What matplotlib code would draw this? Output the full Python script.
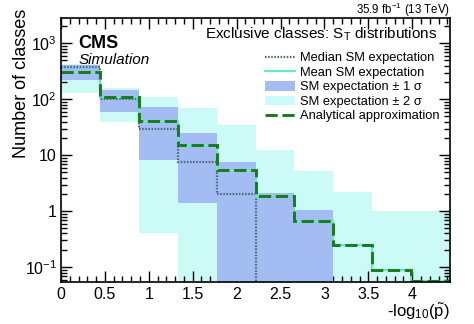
import numpy as np
import matplotlib
matplotlib.use("Agg")
import matplotlib.pyplot as plt
from matplotlib.lines import Line2D
from matplotlib.patches import Patch
from matplotlib.ticker import FixedLocator, FixedFormatter, MultipleLocator, LogLocator, NullFormatter

plt.rcParams['font.family'] = ['Liberation Sans', 'DejaVu Sans']
plt.rcParams['mathtext.fontset'] = 'custom'
plt.rcParams['mathtext.rm'] = 'Liberation Sans'
plt.rcParams['mathtext.it'] = 'Liberation Sans:italic'
plt.rcParams['mathtext.bf'] = 'Liberation Sans:bold'

# ---- data ----
bin_edges = [0.0, 0.443, 0.886, 1.329, 1.772, 2.215, 2.658, 3.101, 3.544, 3.987, 4.43]
analytical = [308, 110, 41, 15, 5.4, 1.9, 0.68, 0.245, 0.09, 0.056]
mean_sm = [308, 110, 41, 15, 5.4, 1.9, 0.68, 0.245, 0.09, 0.056]
median_sm = [370, 101, 29, 7.6, 2.07, 0, 0, 0, 0, 0]
one_sigma_hi = [405, 145, 73, 25, 7.6, 2.1, 1.07, 0, 0, 0]
one_sigma_lo = [225, 59, 8.3, 1.4, 0, 0, 0, 0, 0, 0]
two_sigma_hi = [430, 162, 109, 71, 35, 12.6, 5.2, 2.2, 1.0, 1.0]
two_sigma_lo = [130, 39.5, 0.4, 0, 0, 0, 0, 0, 0, 0]
ytick_values = [0.1, 1, 10, 100, 1000]
ytick_labels = ['$10^{-1}$', '1', '10', '$10^{2}$', '$10^{3}$']
xtick_values = [0, 0.5, 1, 1.5, 2, 2.5, 3, 3.5, 4]
xtick_labels = ['0', '0.5', '1', '1.5', '2', '2.5', '3', '3.5', '4']

edges = np.array(bin_edges)
floor = 1e-4
def fl(a):
    a = np.array(a, dtype=float)
    return np.where(a > 0, a, floor)

c2 = '#ccfaf6'
c1 = '#a3bdf2'
cgreen = '#1a7a1a'
cmed = '#4a6680'
cmean = '#66e8cc'

fig = plt.figure(figsize=(4.74, 3.24), dpi=100)
ax = fig.add_axes([61/474, 1-281.7/324, (450-61)/474, (281.7-18.3)/324])
ax.set_yscale('log')

hi2 = np.array(two_sigma_hi, float)
lo2 = fl(two_sigma_lo)
ax.stairs(np.where(hi2 > 0, hi2, floor), edges, baseline=lo2, fill=True, color=c2, lw=0, zorder=1)
hi1 = np.array(one_sigma_hi, float)
lo1 = fl(one_sigma_lo)
lo1 = np.where(hi1 > 0, lo1, floor)
ax.stairs(np.where(hi1 > 0, hi1, floor), edges, baseline=lo1, fill=True, color=c1, lw=0, zorder=2)

ax.stairs(fl(median_sm), edges, baseline=None, color=cmed, lw=1.6, linestyle=(0, (0.7, 0.7)), zorder=3)
ax.stairs(fl(mean_sm), edges, baseline=None, color=cmean, lw=1.6, zorder=4)
ax.stairs(fl(analytical), edges, baseline=None, color=cgreen, lw=2.1, linestyle=(0, (4.2, 1.6)), zorder=5)

ax.set_xlim(0, 4.43)
ax.set_ylim(0.055, 2800)

ax.yaxis.set_major_locator(FixedLocator(ytick_values))
ax.yaxis.set_major_formatter(FixedFormatter(ytick_labels))
ax.yaxis.set_minor_locator(LogLocator(base=10, subs=np.arange(2, 10), numticks=20))
ax.yaxis.set_minor_formatter(NullFormatter())
ax.xaxis.set_major_locator(FixedLocator(xtick_values))
ax.xaxis.set_major_formatter(FixedFormatter(xtick_labels))
ax.xaxis.set_minor_locator(MultipleLocator(0.1))

ax.tick_params(which='both', direction='in', top=True, right=True, labelsize=11.5, width=1.0, colors='black')
ax.tick_params(which='major', length=8)
ax.tick_params(which='minor', length=4)
ax.tick_params(axis='x', pad=4)
ax.tick_params(axis='y', pad=3)
for s in ax.spines.values():
    s.set_linewidth(1.2)
    s.set_zorder(10)

fig.text(22/474, 1-9/324, 'Number of classes', rotation=90, ha='center', va='top', fontsize=13)
ax.set_xlabel(r'-log$_{10}$($\tilde{\rm p}$)', fontsize=12, loc='right', labelpad=0)

fig.text(450/474, 1-14/324, r'35.9 fb$^{-1}$ (13 TeV)', ha='right', va='baseline', fontsize=8.3)
ax.text(0.045, 0.905, 'CMS', transform=ax.transAxes, fontsize=13, fontweight='bold', va='center', ha='left')
ax.text(0.045, 0.84, 'Simulation', transform=ax.transAxes, fontsize=11, style='italic', va='center', ha='left')
ax.text(0.966, 0.94, r'Exclusive classes: S$_{\rm T}$ distributions', transform=ax.transAxes,
        fontsize=11, va='center', ha='right')

handles = [
    Line2D([], [], color=cmed, lw=1.6, linestyle=(0, (0.7, 0.7))),
    Line2D([], [], color=cmean, lw=1.6),
    Patch(facecolor=c1, edgecolor='none'),
    Patch(facecolor=c2, edgecolor='none'),
    Line2D([], [], color=cgreen, lw=2.1, linestyle=(0, (4.2, 1.6))),
]
labels = ['Median SM expectation', 'Mean SM expectation', 'SM expectation \u00b1 1 \u03c3',
          'SM expectation \u00b1 2 \u03c3', 'Analytical approximation']
leg = ax.legend(handles, labels, loc='upper left', bbox_to_anchor=(265/474, 1-52/324),
                bbox_transform=fig.transFigure, frameon=False, fontsize=9.3,
                handlelength=2.3, handleheight=0.75, handletextpad=0.4, labelspacing=0.18,
                borderpad=0, borderaxespad=0)
leg.set_zorder(8)

fig.savefig('out.png', dpi=100)
